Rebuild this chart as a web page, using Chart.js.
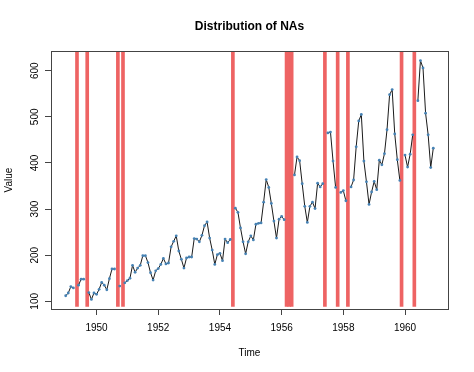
<!DOCTYPE html>
<html><head><meta charset="utf-8">
<script src="https://cdn.jsdelivr.net/npm/chart.js@4.4.0/dist/chart.umd.min.js"></script>
<style>html,body{margin:0;padding:0;background:#fff}#wrap{width:474px;height:372px}</style>
</head><body><div id="wrap"><canvas id="c" width="474" height="372"></canvas></div>
<script>
// ---- data (monthly series, null = missing value) ----
const startYear = 1949;
const monthsPerYear = 12;
const passengers = [
  112,118,132,129,null,135,148,148,null,119,104,118,
  115,126,141,135,125,149,170,170,null,133,null,140,
  145,150,178,163,172,178,199,199,184,162,146,166,
  171,180,193,181,183,218,230,242,209,191,172,194,
  196,196,236,235,229,243,264,272,237,211,180,201,
  204,188,235,227,234,null,302,293,259,229,203,229,
  242,233,267,269,270,315,364,347,312,274,237,278,
  284,277,null,null,null,374,413,405,355,306,271,306,
  315,301,356,348,355,null,465,467,404,347,null,336,
  340,318,null,348,363,435,491,505,404,359,310,337,
  360,342,406,396,420,472,548,559,463,407,362,null,
  417,391,419,461,null,535,622,606,508,461,390,432
];
const xTickLabels = [1950,1952,1954,1956,1958,1960];
const yTickLabels = [100,200,300,400,500,600];
const chartTitle = 'Distribution of NAs';
const xTitle = 'Time';
const yTitle = 'Value';

// ---- derived ----
const times = passengers.map((v,i) => startYear + i / monthsPerYear);
const known = passengers.filter(v => v !== null);
const pad = (lo, hi) => { const d = (hi - lo) * 0.04; return [lo - d, hi + d]; };
const [xMin, xMax] = pad(times[0], times[times.length - 1]);
const [yMin, yMax] = pad(Math.min(...known), Math.max(...known));
const n = passengers.length;
// barplot-style index axis for the missing-value bands
const [bMin, bMax] = pad(0.2, 1.2 * n);
const naBars = [];
passengers.forEach((v,i) => { if (v === null) naBars.push({x: 1.2 * (i + 1) - 0.5, y: [0, 100]}); });

const FONT = "'Liberation Sans', Arial, Helvetica, sans-serif";
Chart.defaults.font.family = FONT;
Chart.defaults.color = '#000';

const AXIS = '#444';

const boxPlugin = {
  id: 'rbox',
  afterDraw(chart) {
    const {ctx, chartArea: a} = chart;
    ctx.save();
    ctx.strokeStyle = AXIS;
    ctx.lineWidth = 1;
    ctx.strokeRect(Math.round(a.left) + 0.5, Math.round(a.top) + 0.5,
                   Math.round(a.right - a.left), Math.round(a.bottom - a.top));
    // rotated y tick labels (R style, parallel to axis)
    const ys = chart.scales.y;
    ctx.fillStyle = '#000';
    ctx.font = '10px ' + FONT;
    ctx.textAlign = 'center';
    ctx.textBaseline = 'alphabetic';
    ys.ticks.forEach(t => {
      const py = ys.getPixelForValue(t.value);
      ctx.save();
      ctx.translate(37.5, py);
      ctx.rotate(-Math.PI / 2);
      ctx.fillText(String(t.value), 0, 0);
      ctx.restore();
    });
    ctx.restore();
  }
};

new Chart(document.getElementById('c'), {
  data: {
    datasets: [
      {
        type: 'line',
        order: 1,
        xAxisID: 'x', yAxisID: 'y',
        data: times.map((t,i) => ({x: t, y: passengers[i]})),
        borderColor: '#1a1a1a',
        borderWidth: 1,
        tension: 0,
        spanGaps: false,
        pointRadius: 1.4,
        pointBackgroundColor: '#4682B4',
        pointBorderWidth: 0,
        fill: false
      },
      {
        type: 'bar',
        order: 2,
        xAxisID: 'xb', yAxisID: 'yb',
        data: naBars,
        backgroundColor: '#EE6363',
        borderWidth: 0,
        barThickness: 3,
        grouped: false
      }
    ]
  },
  options: {
    responsive: false,
    devicePixelRatio: 1,
    animation: false,
    events: [],
    layout: {padding: {left: 0, right: 26, top: 0, bottom: 0}},
    plugins: {
      legend: {display: false},
      tooltip: {enabled: false},
      title: {
        display: true, text: chartTitle, fullSize: false,
        font: {size: 12, weight: 'bold', family: FONT}, color: '#000',
        padding: {top: 19, bottom: 17.6}
      }
    },
    scales: {
      x: {
        type: 'linear', position: 'bottom', min: xMin, max: xMax,
        afterBuildTicks: s => { s.ticks = xTickLabels.map(v => ({value: v})); },
        afterFit: s => { s.height = 63; },
        ticks: {callback: v => String(v), font: {size: 10}, color: '#000', padding: 7, maxRotation: 0, autoSkip: false},
        grid: {drawOnChartArea: false, tickLength: 6, color: AXIS, tickColor: AXIS},
        border: {display: true, color: AXIS},
        title: {display: true, text: xTitle, font: {size: 10}, color: '#000', padding: {top: 0, bottom: 13}}
      },
      y: {
        type: 'linear', position: 'left', min: yMin, max: yMax,
        afterBuildTicks: s => { s.ticks = yTickLabels.map(v => ({value: v})); },
        afterFit: s => { s.width = 51; },
        ticks: {display: false},
        grid: {drawOnChartArea: false, tickLength: 6, color: AXIS, tickColor: AXIS},
        border: {display: true, color: AXIS},
        title: {display: true, text: yTitle, font: {size: 10}, color: '#000', padding: {top: 3, bottom: 0}}
      },
      xb: {type: 'linear', display: false, min: bMin, max: bMax, offset: false},
      yb: {type: 'linear', display: false, min: -1, max: 100}
    }
  },
  plugins: [boxPlugin]
});
</script>
</body></html>
